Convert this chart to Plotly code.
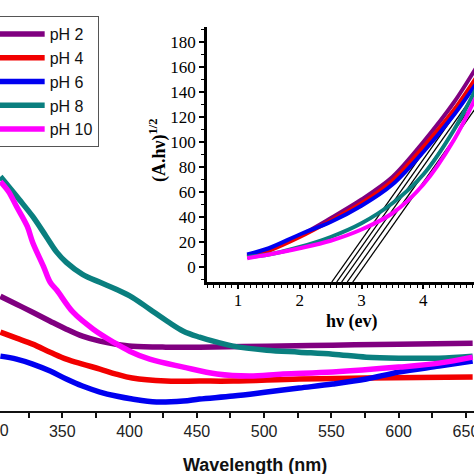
import plotly.graph_objects as go

# ---------------- main spectra (absorbance, a.u.) ----------------
wl_ph2 = [304, 316, 328, 341, 353, 365, 378, 390, 402, 427, 452, 502, 551, 600, 655]
abs_ph2 = [0.460, 0.428, 0.396, 0.360, 0.328, 0.300, 0.280, 0.268, 0.260, 0.256, 0.256, 0.260, 0.264, 0.268, 0.272]

wl_ph4 = [304, 316, 328, 341, 353, 365, 378, 390, 402, 427, 452, 477, 526, 576, 655]
abs_ph4 = [0.316, 0.292, 0.268, 0.236, 0.208, 0.188, 0.168, 0.148, 0.132, 0.120, 0.120, 0.120, 0.128, 0.132, 0.136]

wl_ph6 = [304, 316, 328, 341, 353, 365, 378, 390, 402, 420, 440, 452, 477, 502, 526, 551, 576, 600, 630, 655]
abs_ph6 = [0.220, 0.208, 0.188, 0.160, 0.128, 0.100, 0.076, 0.060, 0.048, 0.036, 0.040, 0.048, 0.060, 0.076, 0.092, 0.108, 0.128, 0.156, 0.180, 0.200]

wl_ph8 = [304, 318, 328, 338, 346, 353, 365, 378, 390, 402, 415, 428, 440, 452, 465, 477, 502, 526, 551, 576, 600, 630, 655]
abs_ph8 = [0.940, 0.848, 0.780, 0.700, 0.636, 0.596, 0.548, 0.516, 0.488, 0.456, 0.408, 0.360, 0.320, 0.296, 0.276, 0.260, 0.244, 0.236, 0.228, 0.216, 0.212, 0.212, 0.220]

wl_ph10 = [304, 310, 316, 324, 328, 336, 341, 346, 358, 373, 388, 400, 415, 440, 465, 489, 514, 551, 600, 630, 655]
abs_ph10 = [0.920, 0.880, 0.820, 0.740, 0.676, 0.580, 0.516, 0.484, 0.396, 0.328, 0.276, 0.240, 0.208, 0.176, 0.148, 0.140, 0.148, 0.156, 0.176, 0.192, 0.216]

# ---------------- inset Tauc plot ----------------
ev = [1.15, 1.5, 2.0, 2.5, 3.0, 3.5, 4.0, 4.5, 4.9]
tauc_ph2 = [9, 14, 25, 39, 54, 72, 100, 132, 163]
tauc_ph4 = [8, 13, 24, 37, 51, 69, 96, 126, 155]
tauc_ph6 = [10, 15, 26, 36, 49, 66, 92, 122, 150]
tauc_ph8 = [8, 10, 16, 24, 35, 51, 74, 110, 147]
tauc_ph10 = [7, 10, 15, 21, 30, 43, 66, 102, 141]

band_gaps = [2.69, 2.77, 2.85, 2.94, 3.03]
tangent_slopes = [70, 70, 70, 70, 70]

names = ["pH 2", "pH 4", "pH 6", "pH 8", "pH 10"]
colors = ["#800080", "#f20000", "#0000f0", "#0a7f7f", "#ff00ff"]

main_wl = [wl_ph2, wl_ph4, wl_ph6, wl_ph8, wl_ph10]
main_abs = [abs_ph2, abs_ph4, abs_ph6, abs_ph8, abs_ph10]
tauc = [tauc_ph2, tauc_ph4, tauc_ph6, tauc_ph8, tauc_ph10]

W = H = 474
fig = go.Figure()

for n, c, x, y in zip(names, colors, main_wl, main_abs):
    fig.add_trace(go.Scatter(x=x, y=y, mode="lines", name=n,
                             line=dict(color=c, width=5.5, shape="spline", smoothing=1.0),
                             xaxis="x", yaxis="y"))

Y2_MIN, Y2_MAX = -12, 192
for eg, s in zip(band_gaps, tangent_slopes):
    x0 = eg + Y2_MIN / s
    x1 = 4.85
    fig.add_trace(go.Scatter(x=[x0, x1], y=[Y2_MIN, s * (x1 - eg)], mode="lines",
                             line=dict(color="black", width=1.3), showlegend=False,
                             xaxis="x2", yaxis="y2"))

for n, c, y in zip(names, colors, tauc):
    fig.add_trace(go.Scatter(x=ev, y=y, mode="lines", name=n, showlegend=False,
                             line=dict(color=c, width=4, shape="spline", smoothing=0.9),
                             xaxis="x2", yaxis="y2"))

main_bottom = (H - 411) / H
inset_left = 207 / W
inset_bottom = (H - 282) / H
inset_top = (H - 27) / H

serif = "Liberation Serif, Times New Roman, serif"
sans = "Liberation Sans, Arial, sans-serif"

fig.update_layout(
    width=W, height=H,
    margin=dict(l=0, r=0, t=0, b=0, autoexpand=False),
    paper_bgcolor="white", plot_bgcolor="rgba(0,0,0,0)",
    showlegend=True,
    legend=dict(x=-0.045, y=1 - 16 / H, xanchor="left", yanchor="top",
                bgcolor="white", bordercolor="#555", borderwidth=1,
                font=dict(family=sans, size=16, color="#111"),
                itemwidth=60, tracegroupgap=0),
    xaxis=dict(domain=[0, 1], range=[303.7, 656], anchor="y", automargin=False,
               showline=True, linecolor="#111", linewidth=2,
               ticks="outside", ticklen=5, tickwidth=1.5, tickcolor="#111",
               tickvals=[350, 400, 450, 500, 550, 600, 650],
               ticklabeloverflow="allow",
               minor=dict(tickvals=[325, 375, 425, 475, 525, 575, 625], ticks="outside",
                          ticklen=5, tickwidth=1.5, tickcolor="#111"),
               tickfont=dict(family=sans, size=16, color="#222"),
               showgrid=False, zeroline=False),
    yaxis=dict(domain=[main_bottom, 1], range=[0, 1.648], anchor="x", automargin=False,
               visible=False, showgrid=False, zeroline=False),
    xaxis2=dict(domain=[inset_left, 1], range=[0.5, 4.82], anchor="y2", automargin=False,
                showline=True, linecolor="black", linewidth=2.5,
                ticks="outside", ticklen=4, tickwidth=1.5, tickcolor="black",
                tickvals=[1, 2, 3, 4], ticklabelstandoff=-3,
                minor=dict(dtick=0.1, ticks="outside", ticklen=3, tickwidth=1, tickcolor="black"),
                tickfont=dict(family=serif, size=17, color="black"),
                showgrid=False, zeroline=False),
    yaxis2=dict(domain=[inset_bottom, inset_top], range=[Y2_MIN, Y2_MAX], anchor="x2", automargin=False,
                showline=True, linecolor="black", linewidth=2.5,
                ticks="outside", ticklen=5, tickwidth=1.5, tickcolor="black",
                tickvals=list(range(0, 181, 20)),
                minor=dict(dtick=10, ticks="outside", ticklen=3, tickwidth=1, tickcolor="black"),
                tickfont=dict(family=serif, size=17, color="black"),
                showgrid=False, zeroline=False),
    annotations=[
        dict(text="<b>Wavelength (nm)</b>", xref="paper", yref="paper",
             x=255 / W, y=(H - 465) / H, showarrow=False,
             font=dict(family=sans, size=18, color="#111"), xanchor="center", yanchor="middle"),
        dict(text="300", xref="paper", yref="paper", x=-5 / W, y=(H - 430) / H,
             showarrow=False, font=dict(family=sans, size=16, color="#222"),
             xanchor="center", yanchor="middle"),
        dict(text="<b>hν (ev)</b>", xref="paper", yref="paper",
             x=352 / W, y=(H - 321) / H, showarrow=False,
             font=dict(family=serif, size=18, color="black"), xanchor="center", yanchor="middle"),
        dict(text="<b>(A.hν)<sup>1/2</sup></b>", xref="paper", yref="paper",
             x=158 / W, y=(H - 150) / H, showarrow=False, textangle=-90,
             font=dict(family=serif, size=18, color="black"), xanchor="center", yanchor="middle"),
    ],
)

fig.write_html("out.html")
